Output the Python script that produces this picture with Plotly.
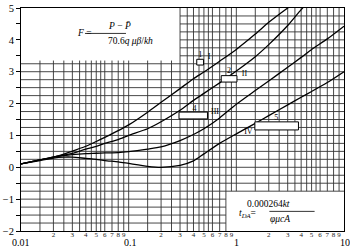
import plotly.graph_objects as go
import numpy as np

# ---- data -------------------------------------------------------------
t_da = [0.01, 0.015, 0.02, 0.025, 0.03, 0.04, 0.05, 0.06, 0.08, 0.1, 0.15, 0.2,
        0.3, 0.4, 0.5, 0.7, 1, 1.5, 2, 3, 4, 5, 7, 10]
F_I = [0.107, 0.23, 0.32, 0.41, 0.51, 0.66, 0.81, 0.94, 1.15, 1.33, 1.73, 2.04,
       2.47, 2.78, 2.99, 3.33, 3.70, 4.18, 4.55, 5.0, 5.3]
F_II = [0.107, 0.23, 0.32, 0.38, 0.44, 0.57, 0.66, 0.75, 0.87, 1.0, 1.21, 1.43,
        1.79, 2.10, 2.32, 2.65, 3.02, 3.47, 3.85, 4.45, 4.95, 5.3]
F_III = [0.107, 0.23, 0.32, 0.37, 0.40, 0.43, 0.44, 0.45, 0.46, 0.49, 0.57, 0.64,
         0.84, 1.03, 1.21, 1.55, 1.98, 2.41, 2.71, 3.14, 3.45, 3.70, 4.03, 4.43]
F_IV = [0.107, 0.21, 0.29, 0.32, 0.32, 0.28, 0.25, 0.21, 0.17, 0.12, 0.03, 0.0,
        0.06, 0.2, 0.42, 0.75, 1.05, 1.38, 1.62, 1.96, 2.2, 2.38, 2.66, 3.0]
curves = [F_I, F_II, F_III, F_IV]

# shape icons (boxes): x0, x1, y0, y1
box_x0 = [0.429, 0.724, 0.2935, 1.487]
box_x1 = [0.496, 1.013, 0.5395, 3.776]
box_y0 = [3.21, 2.675, 1.518, 1.172]
box_y1 = [3.39, 2.877, 1.733, 1.426]

shape_labels = ["1", "2", "4", "5"]
shape_label_x = [0.463, 0.856, 0.408, 2.345]
shape_label_y = [3.52, 3.03, 1.83, 1.56]
roman_labels = ["I", "II", "III", "IV"]
roman_x = [0.559, 1.19, 0.634, 1.294]
roman_y = [3.45, 2.93, 1.75, 1.12]

grid_mult = [1, 1.5, 2, 2.5, 3, 3.5, 4, 4.5, 5, 5.5, 6, 7, 8, 9]
minor_labels = ["2", "3", "4", "5", "6", "7", "8", "9"]
decade_labels = ["0.01", "0.1", "1", "10"]
decades = [0.01, 0.1, 1, 10]

SERIF = "Liberation Serif, Times New Roman, serif"
GRID = "#333333"

fig = go.Figure()

# ---- grid (with the two blank panels) --------------------------------
shapes = []
grid_x = [m * d for d in decades[:3] for m in grid_mult]
for gx in grid_x[1:]:
    y0 = -2 if gx <= 0.8 + 1e-9 else -0.75
    y1 = 3.35 if gx < 0.3 - 1e-9 else 5
    shapes.append(dict(type="line", xref="x", yref="y", x0=gx, x1=gx, y0=y0, y1=y1,
                       line=dict(color=GRID, width=0.9), layer="below"))
for gy in np.arange(-1.75, 5.0, 0.25):
    x0 = 0.01 if gy <= 3.25 + 1e-9 else 0.3
    x1 = 10 if gy >= -0.75 - 1e-9 else 0.8
    shapes.append(dict(type="line", xref="x", yref="y", x0=x0, x1=x1, y0=gy, y1=gy,
                       line=dict(color=GRID, width=0.9), layer="below"))

# boxes
for a, b, c, d in zip(box_x0, box_x1, box_y0, box_y1):
    shapes.append(dict(type="rect", xref="x", yref="y", x0=a, x1=b, y0=c, y1=d,
                       line=dict(color="black", width=1), fillcolor="white", layer="above"))

# fraction bars
BAR1_Y, BAR2_Y = 0.886, 0.088
shapes.append(dict(type="line", xref="paper", yref="paper", x0=0.198, x1=0.325,
                   y0=BAR1_Y, y1=BAR1_Y, line=dict(color="black", width=0.8)))
shapes.append(dict(type="line", xref="paper", yref="paper", x0=0.769, x1=0.909,
                   y0=BAR2_Y, y1=BAR2_Y, line=dict(color="black", width=0.8)))

# ---- curves -----------------------------------------------------------
for F in curves:
    fig.add_trace(go.Scatter(x=t_da[:len(F)], y=F, mode="lines",
                             line=dict(color="black", width=1.3, shape="spline", smoothing=0.6),
                             hoverinfo="skip", showlegend=False))

# dots in the boxes
cx = [np.sqrt(a * b) for a, b in zip(box_x0, box_x1)]
cy = [(c + d) / 2 for c, d in zip(box_y0, box_y1)]
fig.add_trace(go.Scatter(x=cx, y=cy, mode="markers", marker=dict(color="black", size=3),
                         showlegend=False, hoverinfo="skip", cliponaxis=False))
fig.add_trace(go.Scatter(x=shape_label_x + roman_x, y=shape_label_y + roman_y,
                         mode="text", text=shape_labels + roman_labels,
                         textfont=dict(family=SERIF, size=8, color="black"),
                         showlegend=False, hoverinfo="skip"))

# ---- annotations ------------------------------------------------------
ann = []
for lab, d in zip(decade_labels, decades):
    ann.append(dict(x=np.log10(d), y=0, xref="x", yref="paper", text=lab, showarrow=False,
                    yanchor="middle", xanchor="center", yshift=-11.5, borderpad=0,
                    xshift={"0.1": 2, "10": 1}.get(lab, 0),
                    font=dict(family=SERIF, size=10, color="black")))
txt = dict(showarrow=False, xref="paper", yref="paper",
           font=dict(family=SERIF, size=9.5, color="black"))
ann += [
    dict(x=0.167, y=BAR1_Y, yanchor="middle", text="<i>F</i> =", **txt),
    dict(x=0.262, y=BAR1_Y, yanchor="bottom", yshift=0, text="<i>P</i> − <i>P̄</i>", **txt),
    dict(x=0.262, y=BAR1_Y, yanchor="top", yshift=-1, text="70.6<i>q</i> <i>μβ</i>/<i>kh</i>", **txt),
    dict(x=0.7325, y=BAR2_Y, yanchor="middle", yshift=-2, text="<i>t</i><sub><i>DA</i></sub>=", **txt),
    dict(x=0.839, y=BAR2_Y, yanchor="bottom", yshift=0, text="0.000264<i>kt</i>", **txt),
    dict(x=0.839, y=BAR2_Y, yanchor="top", yshift=-1, text="<i>φμcA</i>", **txt),
]

fig.update_layout(
    width=350, height=247,
    margin=dict(l=15, r=6, t=3, b=16),
    plot_bgcolor="white", paper_bgcolor="white",
    shapes=shapes, annotations=ann,
    xaxis=dict(type="log", range=[-2, 1], showgrid=False, zeroline=False,
               showline=True, mirror=True, linecolor="black", linewidth=1,
               tickmode="array",
               tickvals=[m * d for d in decades[:3] for m in range(2, 10)],
               ticktext=minor_labels * 3, ticks="", tickangle=0,
               ticklabelstandoff=-3,
               ticklabeloverflow="allow",
               tickfont=dict(family=SERIF, size=7, color="#222")),
    yaxis=dict(range=[-2, 5], showgrid=False, zeroline=False,
               showline=True, mirror=True, linecolor="black", linewidth=1,
               tickmode="array",
               tickvals=[v / 2 for v in range(-4, 11)],
               ticktext=[("−" + str(-int(v / 2)) if v < 0 else str(int(v / 2))) if v % 2 == 0 else " "
                         for v in range(-4, 11)],
               ticks="outside", ticklen=4, tickcolor="black",
               ticklabeloverflow="allow",
               tickfont=dict(family=SERIF, size=10.5, color="black")),
)
fig.write_html("out.html")
